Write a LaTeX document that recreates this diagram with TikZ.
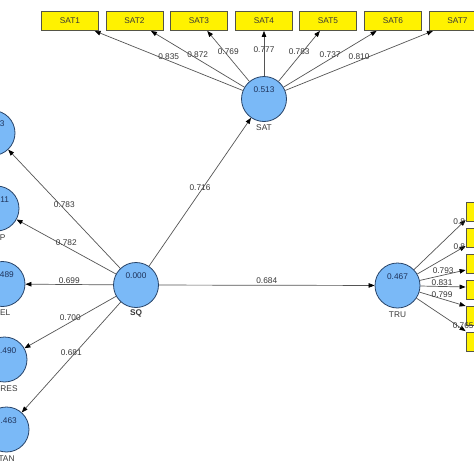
\documentclass[tikz,border=0pt]{standalone}
\usepackage{fontspec}
\setmainfont{Liberation Sans}
\usetikzlibrary{arrows.meta}

\pgfdeclarelayer{bg}
\pgfsetlayers{bg,main}

\definecolor{latfill}{RGB}{122,185,247}
\definecolor{latline}{RGB}{40,68,105}
\definecolor{indline}{RGB}{85,85,70}
\definecolor{arrline}{RGB}{85,85,85}
\definecolor{valtxt}{RGB}{30,50,90}
\definecolor{txt}{RGB}{55,55,55}

\tikzset{
  lat/.style={circle, draw=latline, fill=latfill, line width=0.8pt, minimum size=45pt, inner sep=0pt},
  ind/.style={rectangle, draw=indline, fill=yellow, line width=0.8pt, minimum width=57pt, minimum height=19pt, inner sep=0pt, text=txt},
  rsq/.style={text=valtxt, inner sep=0pt},
  latname/.style={text=txt, inner sep=0pt},
  load/.style={draw=arrline, line width=0.7pt, -{Triangle[length=6pt,width=4.5pt,color=black]}},
  coef/.style={above, pos=.5, inner sep=1pt, text=txt}
}

\begin{document}
\begin{tikzpicture}[x=1pt, y=-1pt, font=\fontsize{8.3}{10}\selectfont]
\useasboundingbox (0,0) rectangle (474,474);
\clip (0,0) rectangle (474,474);

% latent variables
\node[lat] (SQ)  at (136,285)    {};
\node[lat] (SAT) at (264,99)     {};
\node[lat] (TRU) at (397.5,285.5) {};
\node[lat] (ASS) at (-7.5,133)   {};
\node[lat] (EMP) at (-3.5,208.5) {};
\node[lat] (REL) at (2.5,284)    {};
\node[lat] (RES) at (4.5,359.5)  {};
\node[lat] (TAN) at (6.5,429.5)  {};

% r-square values and names
\node[rsq] at ([yshift=9pt]SQ.center)  {0.000};
\node[rsq] at ([yshift=9pt]SAT.center) {0.513};
\node[rsq] at ([yshift=9pt]TRU.center) {0.467};
\node[latname, font=\fontsize{8.3}{10}\selectfont\bfseries] at ([yshift=-6pt]SQ.south) {SQ};
\node[latname] at ([yshift=-6pt]SAT.south) {SAT};
\node[latname] at ([yshift=-6pt]TRU.south) {TRU};

\node[rsq, anchor=east] at ([xshift=12.3pt, yshift=9pt]ASS.center) {3};
\node[rsq, anchor=east] at ([xshift=12.8pt, yshift=9pt]EMP.center) {11};
\node[rsq, anchor=east] at ([xshift=11.5pt, yshift=9pt]REL.center) {489};
\node[rsq, anchor=east] at ([xshift=12pt, yshift=9pt]RES.center) {.490};
\node[rsq, anchor=east] at ([xshift=10.5pt, yshift=9pt]TAN.center) {.463};
\node[latname, anchor=east] at ([xshift=9pt, yshift=-6pt]EMP.south) {P};
\node[latname, anchor=east] at ([xshift=8pt, yshift=-6pt]REL.south) {EL};
\node[latname, anchor=west] at ([xshift=-4.2pt, yshift=-6pt]RES.south) {RES};
\node[latname] at ([yshift=-6pt]TAN.south) {TAN};

% indicators
\foreach \i/\x in {1/70,2/134.5,3/199,4/264,5/328,6/393,7/457.5}
  \node[ind] (SAT\i) at (\x,21) {SAT\i};
\foreach \i/\y in {1/212,2/238,3/264,4/290,5/316,6/342}
  \node[ind] (TRU\i) at (494.5,\y) {};

% paths
\begin{pgfonlayer}{bg}
\fill[white] (0,0) rectangle (474,474);
\draw[load] (SQ) -- (SAT) node[coef] {0.716};
\draw[load] (SQ) -- (TRU) node[coef] {0.684};
\draw[load] (SQ) -- (ASS) node[coef] {0.783};
\draw[load] (SQ) -- (EMP) node[coef] {0.782};
\draw[load] (SQ) -- (REL) node[coef] {0.699};
\draw[load] (SQ) -- (RES) node[coef] {0.700};
\draw[load] (SQ) -- (TAN) node[coef] {0.681};

\foreach \i/\c in {1/0.835,2/0.872,3/0.769,4/0.777,5/0.783,6/0.737,7/0.810}
  \draw[load] (SAT) -- (SAT\i) node[coef] {\c};

\draw[load] (TRU) -- ([yshift=-8pt]TRU1.west)  node[coef, pos=.875] {0.8};
\draw[load] (TRU) -- ([yshift=-8pt]TRU2.west)  node[coef, pos=.87, inner sep=0pt] {0.8};
\draw[load] (TRU) -- ([yshift=-6pt]TRU3.west)  node[coef, pos=.51] {0.793};
\draw[load] (TRU) -- ([yshift=3pt]TRU4.west)   node[coef, pos=.48] {0.831};
\draw[load] (TRU) -- ([yshift=10pt]TRU5.west)  node[coef, pos=.49] {0.799};
\end{pgfonlayer}
\draw[load] (TRU) -- ([yshift=1pt]TRU6.north west) node[coef, pos=.95, inner sep=0.5pt] {0.765};
\end{tikzpicture}
\end{document}
